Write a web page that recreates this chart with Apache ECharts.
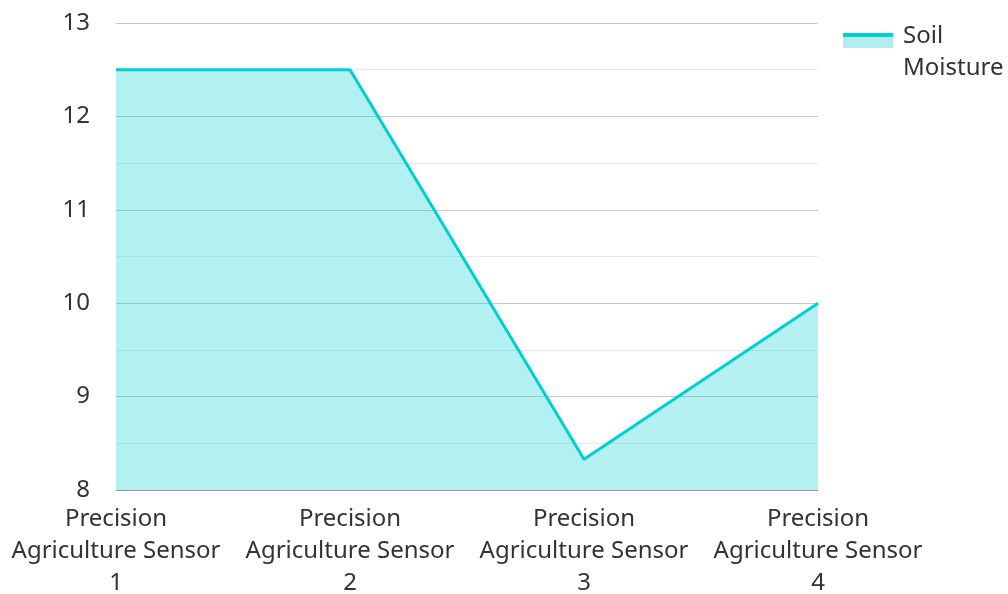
<!DOCTYPE html>
<html>
<head>
<meta charset="utf-8">
<script src="https://cdn.jsdelivr.net/npm/echarts@6/dist/echarts.min.js"></script>
<style>
  html, body { margin: 0; padding: 0; background: #fff; }
  #chart { width: 1008px; height: 594px; }
</style>
</head>
<body>
<div id="chart"></div>
<script>
// Sensor categories and soil moisture readings
const categories = [
  'Precision Agriculture Sensor 1',
  'Precision Agriculture Sensor 2',
  'Precision Agriculture Sensor 3',
  'Precision Agriculture Sensor 4'
];
const soilMoisture = [12.5, 12.5, 8.33, 10];
const seriesName = 'Soil Moisture';

const LINE_COLOR = '#00CED1';
const FILL_COLOR = 'rgba(0, 206, 209, 0.3)';
const FILL_SOLID = '#b2eeef';
const TEXT_COLOR = '#333';
const FONT = '"Noto Sans", "Open Sans", sans-serif';

const chart = echarts.init(document.getElementById('chart'));

// Legend swatch: line on top, area underneath, drawn in the upper part of a taller icon
const swatch = {
  type: 'linear', x: 0, y: 0, x2: 0, y2: 1,
  colorStops: [
    { offset: 0, color: LINE_COLOR },
    { offset: 0.1, color: LINE_COLOR },
    { offset: 0.1, color: FILL_SOLID },
    { offset: 0.4, color: FILL_SOLID },
    { offset: 0.4, color: 'rgba(255,255,255,0)' },
    { offset: 1, color: 'rgba(255,255,255,0)' }
  ]
};

chart.setOption({
  animation: false,
  textStyle: { fontFamily: FONT },
  grid: { left: 116, right: 190, top: 23, bottom: 104, outerBoundsMode: 'none' },
  legend: {
    data: [seriesName],
    left: 843,
    top: 20,
    padding: 0,
    itemWidth: 50,
    itemHeight: 38,
    icon: 'rect',
    itemStyle: { color: swatch, borderWidth: 0 },
    textStyle: {
      color: TEXT_COLOR,
      fontSize: 24,
      lineHeight: 32,
      width: 110,
      overflow: 'break',
      padding: [0, 0, 0, 5]
    }
  },
  xAxis: {
    type: 'category',
    data: categories,
    boundaryGap: false,
    axisLine: { show: true, lineStyle: { color: '#999', width: 1 } },
    axisTick: { show: false },
    splitLine: { show: false },
    axisLabel: {
      color: TEXT_COLOR,
      fontSize: 24,
      lineHeight: 32,
      margin: 13,
      interval: 0,
      formatter: v => v.replace(/^(\S+) (.+) (\S+)$/, '$1\n$2\n$3')
    }
  },
  yAxis: {
    type: 'value',
    min: 8,
    max: 13,
    interval: 1,
    axisLine: { show: false },
    axisTick: { show: false },
    axisLabel: { color: TEXT_COLOR, fontSize: 24, margin: 26 },
    splitLine: { show: true, lineStyle: { color: '#c8c8c8', width: 1 } },
    minorTick: { show: false, splitNumber: 2 },
    minorSplitLine: { show: true, lineStyle: { color: '#e8e8e8', width: 1 } }
  },
  series: [{
    name: seriesName,
    type: 'line',
    data: soilMoisture,
    showSymbol: false,
    symbol: 'none',
    lineStyle: { color: LINE_COLOR, width: 3 },
    itemStyle: { color: LINE_COLOR },
    areaStyle: { color: FILL_COLOR, opacity: 1, origin: 'start' }
  }]
});
</script>
</body>
</html>
